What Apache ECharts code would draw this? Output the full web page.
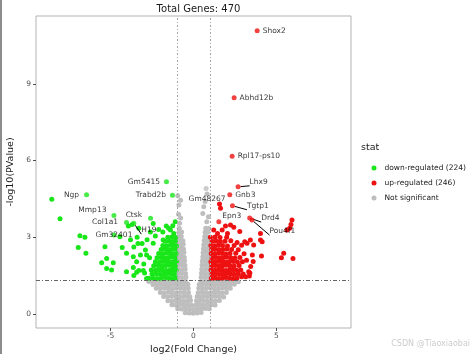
<!DOCTYPE html>
<html>
<head>
    <meta charset="utf-8">
    <title>Volcano</title>
    <script src="https://cdn.jsdelivr.net/npm/echarts@6/dist/echarts.min.js"></script>
    <style>
        html, body { margin: 0; padding: 0; background: #fff; }
        #main { width: 474px; height: 354px; }
    </style>
</head>
<body>
<div id="main"></div>
<script type="text/javascript">
    // chart data
    const xTicks = [-5, 0, 5];
    const yTicks = [0, 3, 6, 9];
    const legendNames = ['down-regulated (224)', 'up-regulated (246)', 'Not significant'];
    const fcCut = 1;
    const pCut = 1.301;

    const grayPts = [
        [-0.5, 0.05], [-0.26, 0.04], [-0.02, 0.03], [0.22, 0.04], [0.46, 0.06],
        [-0.95, 0.2], [-0.72, 0.19], [-0.48, 0.2], [-0.24, 0.18], [0.0, 0.17], [0.24, 0.19], [0.48, 0.2], [0.72, 0.21], [0.95, 0.2],
        [-1.3, 0.36], [-1.06, 0.35], [-0.82, 0.37], [-0.58, 0.36], [-0.34, 0.35], [-0.12, 0.34], [0.12, 0.34], [0.34, 0.36], [0.58, 0.35], [0.82, 0.37], [1.06, 0.36], [1.3, 0.35],
        [-1.55, 0.52], [-1.31, 0.51], [-1.07, 0.53], [-0.83, 0.52], [-0.59, 0.5], [-0.36, 0.52], [-0.18, 0.53], [0.18, 0.52], [0.36, 0.51], [0.6, 0.53], [0.84, 0.52], [1.08, 0.5], [1.32, 0.52], [1.56, 0.53],
        [-1.8, 0.68], [-1.56, 0.67], [-1.32, 0.69], [-1.08, 0.68], [-0.84, 0.66], [-0.6, 0.68], [-0.4, 0.69], [-0.22, 0.67], [0.22, 0.68], [0.4, 0.67], [0.6, 0.69], [0.84, 0.68], [1.08, 0.67], [1.32, 0.69], [1.56, 0.68], [1.82, 0.66],
        [-2.0, 0.84], [-1.76, 0.83], [-1.52, 0.85], [-1.28, 0.84], [-1.04, 0.82], [-0.8, 0.84], [-0.56, 0.85], [-0.3, 0.84], [0.28, 0.83], [0.52, 0.85], [0.76, 0.84], [1.0, 0.82], [1.24, 0.84], [1.48, 0.85], [1.72, 0.83], [1.98, 0.84],
        [-2.25, 1.0], [-2.0, 0.99], [-1.76, 1.01], [-1.52, 1.0], [-1.28, 0.98], [-1.04, 1.0], [-0.8, 1.01], [-0.56, 0.99], [-0.32, 1.0], [0.32, 1.0], [0.56, 0.99], [0.8, 1.01], [1.04, 1.0], [1.28, 0.98], [1.52, 1.0], [1.76, 1.01], [2.0, 0.99], [2.22, 1.0],
        [-2.45, 1.15], [-2.2, 1.14], [-1.96, 1.16], [-1.72, 1.15], [-1.48, 1.13], [-1.24, 1.15], [-1.0, 1.16], [-0.76, 1.14], [-0.52, 1.15], [-0.34, 1.16], [0.34, 1.15], [0.54, 1.14], [0.78, 1.16], [1.02, 1.15], [1.26, 1.13], [1.5, 1.15], [1.74, 1.16], [1.98, 1.14], [2.22, 1.15], [2.46, 1.16],
        [-2.7, 1.27], [-2.45, 1.28], [-2.2, 1.26], [-1.95, 1.27], [-1.7, 1.28], [-1.45, 1.27], [-1.2, 1.26], [-0.95, 1.28], [-0.7, 1.27], [-0.48, 1.28], [0.46, 1.27], [0.7, 1.28], [0.95, 1.26], [1.2, 1.27], [1.45, 1.28], [1.7, 1.27], [1.95, 1.26], [2.2, 1.28], [2.45, 1.27], [2.7, 1.26],
        [-0.92, 1.43], [-0.7, 1.42], [-0.46, 1.44], [0.46, 1.43], [0.7, 1.44], [0.92, 1.42],
        [-0.94, 1.59], [-0.71, 1.6], [-0.48, 1.58], [0.48, 1.59], [0.71, 1.6], [0.94, 1.58],
        [-0.93, 1.75], [-0.7, 1.74], [-0.5, 1.76], [0.5, 1.75], [0.72, 1.74], [0.94, 1.76],
        [-0.92, 1.91], [-0.72, 1.92], [-0.52, 1.9], [0.52, 1.91], [0.73, 1.9], [0.93, 1.92],
        [-0.94, 2.07], [-0.74, 2.06], [-0.54, 2.08], [0.53, 2.07], [0.74, 2.08], [0.94, 2.06],
        [-0.92, 2.23], [-0.74, 2.24], [-0.56, 2.22], [0.56, 2.23], [0.75, 2.22], [0.93, 2.24],
        [-0.93, 2.39], [-0.76, 2.38], [-0.58, 2.4], [0.58, 2.39], [0.76, 2.4], [0.94, 2.38],
        [-0.92, 2.55], [-0.75, 2.56], [-0.6, 2.54], [0.6, 2.55], [0.77, 2.54], [0.93, 2.56],
        [-0.93, 2.71], [-0.77, 2.7], [-0.62, 2.72], [0.62, 2.71], [0.78, 2.72], [0.94, 2.7],
        [-0.92, 2.87], [-0.78, 2.88], [-0.64, 2.86], [0.64, 2.87], [0.8, 2.86], [0.95, 2.88],
        [-0.9, 3.03], [-0.74, 3.04], [0.68, 3.03], [0.84, 3.02],
        [-0.88, 3.19], [-0.72, 3.2], [0.7, 3.19], [0.88, 3.2],
        [-0.86, 3.35], [0.74, 3.35], [0.92, 3.34],
        [-0.84, 3.55], [-0.78, 3.75], [-0.9, 3.9], [-0.88, 4.26], [-0.78, 4.45], [-0.95, 4.62],
        [0.8, 3.6], [0.9, 3.8], [0.56, 3.93], [0.62, 4.19], [0.7, 4.4], [0.82, 4.69]
    ];

    const downPts = [
        [-2.7, 1.4], [-2.45, 1.41], [-2.2, 1.39], [-1.95, 1.4], [-1.7, 1.42], [-1.48, 1.4], [-1.27, 1.39], [-1.08, 1.41],
        [-2.5, 1.56], [-2.26, 1.57], [-2.02, 1.55], [-1.8, 1.56], [-1.58, 1.58], [-1.36, 1.56], [-1.16, 1.55],
        [-2.55, 1.72], [-2.3, 1.71], [-2.08, 1.73], [-1.86, 1.72], [-1.64, 1.7], [-1.42, 1.72], [-1.22, 1.73], [-1.05, 1.71],
        [-2.4, 1.88], [-2.15, 1.89], [-1.92, 1.87], [-1.7, 1.88], [-1.48, 1.9], [-1.28, 1.88], [-1.1, 1.87],
        [-2.3, 2.04], [-2.05, 2.03], [-1.82, 2.05], [-1.6, 2.04], [-1.38, 2.02], [-1.18, 2.04], [-1.03, 2.05],
        [-2.2, 2.2], [-1.96, 2.21], [-1.74, 2.19], [-1.52, 2.2], [-1.32, 2.22], [-1.12, 2.2],
        [-2.1, 2.36], [-1.85, 2.35], [-1.62, 2.37], [-1.42, 2.36], [-1.22, 2.34], [-1.05, 2.36],
        [-1.95, 2.52], [-1.72, 2.53], [-1.5, 2.51], [-1.3, 2.52], [-1.12, 2.54],
        [-1.85, 2.68], [-1.6, 2.67], [-1.38, 2.69], [-1.18, 2.68], [-1.03, 2.66],
        [-1.7, 2.84], [-1.48, 2.85], [-1.27, 2.83], [-1.1, 2.84],
        [-1.55, 3.0], [-1.3, 3.01], [-1.08, 2.99],
        [-8.55, 4.48], [-8.05, 3.72], [-6.85, 3.06], [-6.55, 3.0], [-6.95, 2.6], [-6.49, 2.37],
        [-5.34, 2.63], [-4.44, 3.02], [-3.93, 3.44], [-3.7, 3.5], [-3.3, 3.35], [-2.43, 3.54],
        [-5.54, 2.0], [-5.24, 2.17], [-4.84, 2.0], [-5.24, 1.78], [-4.94, 1.72], [-4.04, 2.37],
        [-3.63, 2.24], [-3.43, 2.04], [-4.04, 1.65], [-2.83, 1.39], [-1.64, 3.44], [-1.39, 3.28],
        [-1.19, 3.15], [-2.1, 3.3], [-1.85, 3.2], [-2.3, 3.05], [-2.8, 2.9], [-3.1, 2.75],
        [-2.9, 2.5], [-3.2, 2.3], [-2.65, 2.2], [-3.0, 1.95], [-3.3, 1.7], [-2.95, 1.6],
        [-3.6, 1.5], [-1.1, 3.6], [-1.25, 3.45], [-3.8, 2.9], [-4.3, 2.6], [-3.4, 3.0],
        [-3.6, 2.62], [-3.35, 2.75], [-2.83, 2.3], [-2.43, 2.76], [-1.83, 2.89], [-3.63, 1.82],
        [-3.43, 1.63], [-3.03, 1.7], [-2.6, 3.2], [-1.5, 3.35]
    ];

    const upPts = [
        [1.08, 1.4], [1.3, 1.41], [1.52, 1.39], [1.74, 1.4], [1.96, 1.42], [2.18, 1.4], [2.4, 1.39], [2.62, 1.41],
        [1.12, 1.56], [1.34, 1.57], [1.56, 1.55], [1.78, 1.56], [2.0, 1.58], [2.22, 1.56], [2.44, 1.55], [2.7, 1.57], [3.0, 1.56],
        [1.06, 1.72], [1.28, 1.71], [1.5, 1.73], [1.72, 1.72], [1.94, 1.7], [2.16, 1.72], [2.38, 1.73], [2.6, 1.71], [2.85, 1.72],
        [1.1, 1.88], [1.32, 1.89], [1.54, 1.87], [1.76, 1.88], [1.98, 1.9], [2.2, 1.88], [2.45, 1.87], [2.75, 1.89],
        [1.05, 2.04], [1.27, 2.03], [1.49, 2.05], [1.71, 2.04], [1.93, 2.02], [2.15, 2.04], [2.4, 2.05], [2.65, 2.03], [2.95, 2.04],
        [1.12, 2.2], [1.34, 2.21], [1.56, 2.19], [1.78, 2.2], [2.0, 2.22], [2.25, 2.2], [2.5, 2.19], [2.8, 2.21],
        [1.07, 2.36], [1.29, 2.35], [1.51, 2.37], [1.73, 2.36], [1.95, 2.34], [2.2, 2.36], [2.55, 2.37], [3.05, 2.35],
        [1.1, 2.52], [1.32, 2.53], [1.54, 2.51], [1.78, 2.52], [2.02, 2.54], [2.3, 2.52], [2.7, 2.51],
        [1.05, 2.68], [1.27, 2.67], [1.5, 2.69], [1.75, 2.68], [2.05, 2.66], [2.45, 2.68], [2.9, 2.69],
        [1.12, 2.84], [1.36, 2.85], [1.62, 2.83], [1.9, 2.84], [2.25, 2.86],
        [1.02, 3.0], [1.3, 3.01], [1.6, 2.99], [2.0, 3.0],
        [1.57, 4.3], [1.63, 4.13], [5.94, 3.67], [5.88, 3.5], [5.8, 3.35], [5.64, 3.28],
        [4.04, 3.15], [4.14, 2.82], [5.44, 2.37], [5.3, 2.2], [6.0, 2.17], [4.1, 2.27],
        [3.43, 2.89], [3.23, 2.76], [1.22, 3.28], [1.73, 3.28], [1.93, 3.44], [2.23, 3.48],
        [2.43, 3.39], [2.79, 3.22], [3.09, 2.82], [3.63, 2.7], [2.63, 2.79], [4.04, 2.89],
        [3.37, 1.48], [3.4, 1.6], [3.45, 1.85], [3.6, 2.05], [3.55, 2.3], [3.33, 1.65],
        [3.2, 2.1], [3.15, 1.45], [2.9, 1.45], [1.45, 3.15], [2.05, 3.15]
    ];

    // name, log2FC, -log10(p), group
    const labeledGenes = [
        ['Shox2', 3.84, 11.07, 'up'],
        ['Abhd12b', 2.45, 8.45, 'up'],
        ['Rpl17-ps10', 2.33, 6.17, 'up'],
        ['Lhx9', 2.69, 4.97, 'up'],
        ['Gnb3', 2.19, 4.66, 'up'],
        ['Tgtp1', 2.35, 4.23, 'up'],
        ['Epn3', 1.53, 3.6, 'up'],
        ['Drd4', 3.39, 3.75, 'up'],
        ['Pou4f1', 3.53, 3.67, 'up'],
        ['Gm48267', 0.76, 4.9, 'ns'],
        ['Gm5415', -1.63, 5.17, 'down'],
        ['Trabd2b', -1.27, 4.64, 'down'],
        ['Ngp', -6.45, 4.66, 'down'],
        ['Mmp13', -4.8, 3.85, 'down'],
        ['Ctsk', -2.59, 3.74, 'down'],
        ['Col1a1', -4.04, 3.58, 'down'],
        ['H19', -3.6, 3.55, 'down'],
        ['Gm32401', -4.8, 3.09, 'down']
    ];

    const colors = {down: '#19e619', up: '#ee1111', ns: '#bebebe'};

    // where each text sits relative to its point
    const labelPlace = {
        'Shox2': {position: 'right', distance: 3},
        'Abhd12b': {position: 'right', distance: 3},
        'Rpl17-ps10': {position: 'right', distance: 3},
        'Lhx9': {position: 'right', distance: 9, offset: [0, -5], line: true},
        'Gnb3': {position: 'right', distance: 3},
        'Tgtp1': {position: 'right', distance: 12, line: true},
        'Epn3': {position: 'right', distance: 1, offset: [0, -6]},
        'Drd4': {position: 'right', distance: 9, line: true},
        'Pou4f1': {position: 'right', distance: 15, offset: [0, 11], line: true},
        'Gm48267': {position: 'bottom', distance: 4, offset: [1, 0]},
        'Gm5415': {position: 'left', distance: 4},
        'Trabd2b': {position: 'left', distance: 4},
        'Ngp': {position: 'left', distance: 5},
        'Mmp13': {position: 'left', distance: 5, offset: [0, -5]},
        'Ctsk': {position: 'left', distance: 6, offset: [0, -3]},
        'Col1a1': {position: 'left', distance: 6},
        'H19': {position: 'right', distance: 5, offset: [0, 7], line: true},
        'Gm32401': {position: 'inside', distance: 0}
    };

    const chart = echarts.init(document.getElementById('main'));

    const labelData = labeledGenes.map(function (g) {
        const p = labelPlace[g[0]];
        return {
            name: g[0],
            value: [g[1], g[2]],
            itemStyle: {color: colors[g[3]]},
            label: {
                show: true,
                position: p.position,
                distance: p.distance,
                offset: p.offset || [0, 0],
                formatter: '{b}'
            },
            labelLine: {show: !!p.line}
        };
    });

    const font = 'DejaVu Sans';

    const option = {
        animation: false,
        textStyle: {fontFamily: font},
        title: [
            {
                text: 'Total Genes: 470',
                left: 193.5,
                textAlign: 'center',
                top: -1,
                textStyle: {fontSize: 10, fontWeight: 'normal', color: '#1a1a1a', fontFamily: font}
            },
            {
                text: 'stat',
                left: 356,
                top: 138,
                textStyle: {fontSize: 9.5, fontWeight: 'normal', color: '#1a1a1a', fontFamily: font}
            }
        ],
        legend: {
            data: legendNames,
            orient: 'vertical',
            left: 366.5,
            top: 158,
            icon: 'circle',
            itemWidth: 5,
            itemHeight: 5,
            itemGap: 5,
            textStyle: {fontSize: 7.5, color: '#1a1a1a', fontFamily: font, padding: [0, 0, 0, 3], lineHeight: 10}
        },
        grid: {
            left: 36,
            right: 123,
            top: 16,
            bottom: 26,
            outerBoundsMode: 'none',
            show: true,
            borderColor: '#b3b3b3',
            borderWidth: 1
        },
        xAxis: {
            type: 'value',
            min: -9.5,
            max: 9.5,
            name: 'log2(Fold Change)',
            nameLocation: 'middle',
            nameGap: 15,
            nameTextStyle: {fontSize: 9.5, color: '#1a1a1a', fontFamily: font},
            splitLine: {show: false},
            axisLine: {show: false, onZero: false},
            axisTick: {show: true, length: 3, customValues: xTicks, lineStyle: {color: '#4d4d4d'}},
            axisLabel: {customValues: xTicks, fontSize: 7.5, color: '#4d4d4d', margin: 4, fontFamily: font}
        },
        yAxis: {
            type: 'value',
            min: -0.55,
            max: 11.65,
            name: '-log10(PValue)',
            nameLocation: 'middle',
            nameGap: 17,
            nameTextStyle: {fontSize: 9.5, color: '#1a1a1a', fontFamily: font},
            splitLine: {show: false},
            axisLine: {show: false, onZero: false},
            axisTick: {show: true, length: 3, customValues: yTicks, lineStyle: {color: '#4d4d4d'}},
            axisLabel: {customValues: yTicks, fontSize: 7.5, color: '#4d4d4d', margin: 5, fontFamily: font}
        },
        graphic: [
            {type: 'rect', left: 0, top: 0, shape: {width: 2, height: 354}, style: {fill: '#8c8c8c'}},
            {
                type: 'text', right: 4, top: 340,
                style: {text: 'CSDN @Tiaoxiaobai', fontSize: 8, fill: '#cccccc', fontFamily: font}
            }
        ],
        series: [
            {
                name: legendNames[2],
                type: 'scatter',
                symbolSize: 5,
                itemStyle: {color: colors.ns, opacity: 1},
                data: grayPts,
                z: 2
            },
            {
                name: legendNames[0],
                type: 'scatter',
                symbolSize: 5,
                itemStyle: {color: colors.down, opacity: 1},
                data: downPts,
                z: 3
            },
            {
                name: legendNames[1],
                type: 'scatter',
                symbolSize: 5,
                itemStyle: {color: colors.up, opacity: 1},
                data: upPts,
                z: 3
            },
            {
                name: 'cutoffs',
                type: 'scatter',
                data: [],
                z: 5,
                markLine: {
                    silent: true,
                    symbol: 'none',
                    label: {show: false},
                    data: [
                        {xAxis: -fcCut, lineStyle: {color: '#a6a6a6', width: 1, type: [2, 2, 1, 2]}},
                        {xAxis: fcCut, lineStyle: {color: '#a6a6a6', width: 1, type: [2, 2, 1, 2]}},
                        {yAxis: pCut, lineStyle: {color: '#666666', width: 1, type: [4, 2, 1, 2]}}
                    ]
                }
            },
            {
                name: 'labels',
                type: 'scatter',
                symbolSize: 5,
                z: 6,
                data: labelData,
                label: {fontSize: 7.5, color: '#000000', fontFamily: font},
                labelLine: {lineStyle: {color: '#000000', width: 1}}
            }
        ]
    };
    chart.setOption(option);
</script>
</body>
</html>
